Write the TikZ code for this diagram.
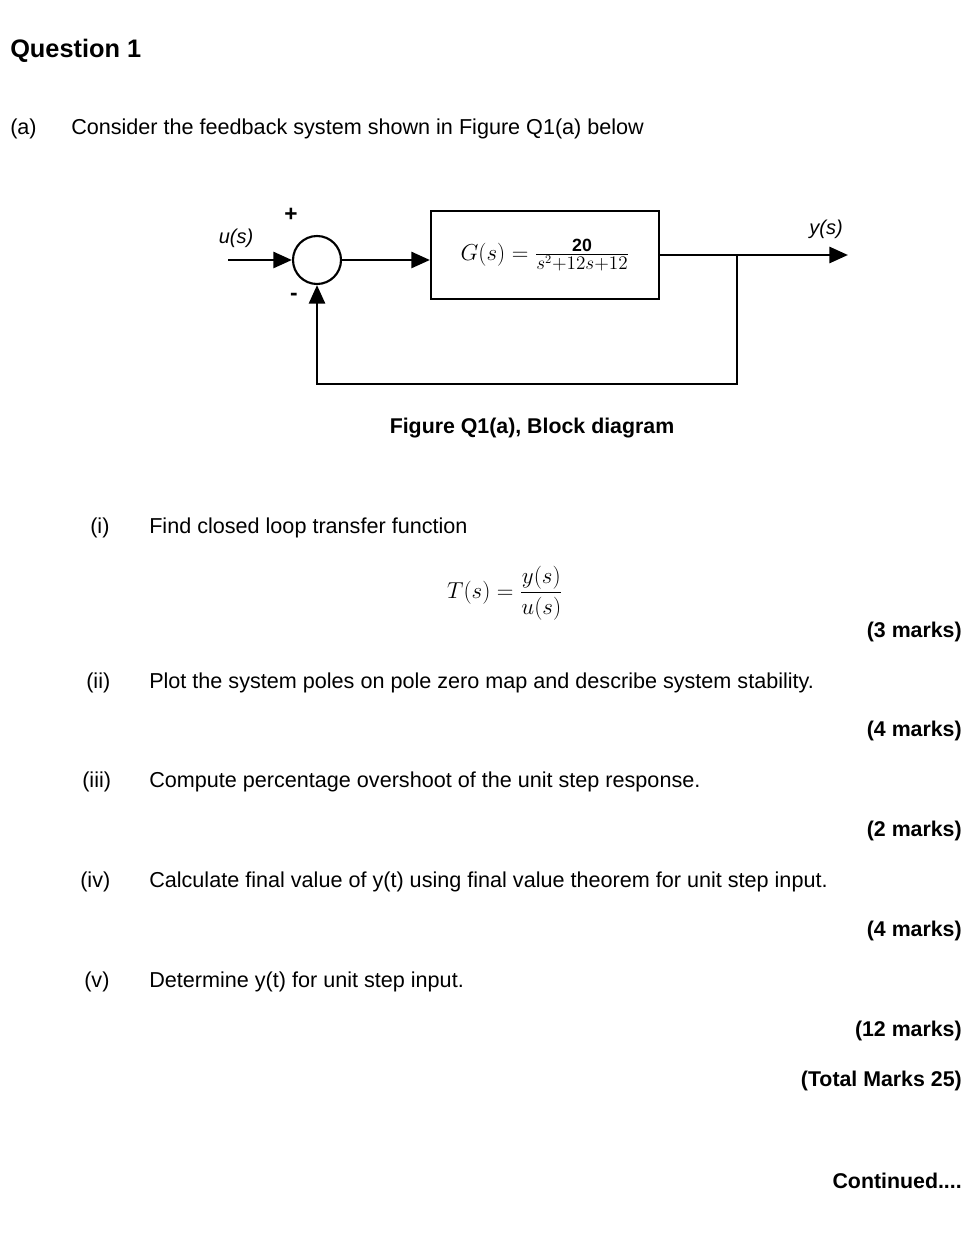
\documentclass[tikz,border=0pt]{standalone}
\usepackage{amsmath}
\usepackage{fontspec}
\setmainfont{Liberation Sans}
\usetikzlibrary{arrows.meta}
\begin{document}
\begin{tikzpicture}[x=0.75pt,y=-0.75pt,
  txt/.style={anchor=west,inner sep=0,font=\fontsize{16.2}{19}\selectfont},
  mk/.style={anchor=east,inner sep=0,font=\fontsize{16}{19}\selectfont\bfseries},
  ln/.style={line width=2.2pt},
  ar/.style={ln,-{Triangle[length=14pt,width=12pt]}}]
\useasboundingbox (0,0) rectangle (967,1237);
\node[txt,font=\fontsize{19}{22}\selectfont\bfseries] (q) at (10,51) {Question 1};
\node[txt] (a) at (10,129) {(a)};
\node[txt] (at) at (71,129) {Consider the feedback system shown in Figure Q1(a) below};
% diagram
\node[circle,draw,line width=1.6pt,minimum size=48pt*0.75,inner sep=0] (sum) at (317,260) {};
\node[draw,line width=1.6pt,minimum width=228*0.75pt,minimum height=88*0.75pt,inner sep=0] (G) at (545,255)
  {\fontsize{19}{22}\selectfont$G(s)=\frac{\mathbf{20}}{s^2+12s+12}$};
\coordinate (uin) at (228,260);
\coordinate (br) at (737,255);
\coordinate (yout) at (848,255);
\coordinate (c1) at (737,384);
\coordinate (c2) at (317,384);
\draw[ar] (uin) -- (sum.west);
\draw[ar] (sum.east) -- (sum.east -| G.west);
\draw[ar] (G.east) -- (yout);
\draw[ar] (br) -- (c1) -- (c2) -- (sum.south);
\node[inner sep=0,font=\fontsize{15}{16}\selectfont\itshape] (ul) at (236,238) {u(s)};
\node[inner sep=0,font=\fontsize{15}{16}\selectfont\itshape] (yl) at (826,229) {y(s)};
\node[inner sep=0,font=\fontsize{17}{16}\selectfont\bfseries] (pl) at (291,215) {+};
\node[inner sep=0,font=\fontsize{17}{16}\selectfont\bfseries] (mi) at (294,297) {-};
\node[inner sep=0,font=\fontsize{16}{19}\selectfont\bfseries] (cap) at (532,428) {Figure Q1(a), Block diagram};
% questions
\node[txt] (i) at (90,528) {(i)};
\node[txt] (it) at (149,528) {Find closed loop transfer function};
\node[inner sep=0] (T) at (505,593) {\fontsize{16}{19}\selectfont$T(s)=\dfrac{y(s)}{u(s)}$};
\node[mk] (m1) at (962,632) {(3 marks)};
\node[txt] (ii) at (86,683) {(ii)};
\node[txt] (iit) at (149,683) {Plot the system poles on pole zero map and describe system stability.};
\node[mk] (m2) at (962,731) {(4 marks)};
\node[txt] (iii) at (82,782) {(iii)};
\node[txt] (iiit) at (149,782) {Compute percentage overshoot of the unit step response.};
\node[mk] (m3) at (962,831) {(2 marks)};
\node[txt] (iv) at (80,882) {(iv)};
\node[txt] (ivt) at (149,882) {Calculate final value of y(t) using final value theorem for unit step input.};
\node[mk] (m4) at (962,931) {(4 marks)};
\node[txt] (v) at (84,982) {(v)};
\node[txt] (vt) at (149,982) {Determine y(t) for unit step input.};
\node[mk] (m5) at (962,1031) {(12 marks)};
\node[mk] (m6) at (962,1081) {(Total Marks 25)};
\node[mk] (m7) at (962,1181) {Continued....};
\end{tikzpicture}
\end{document}
